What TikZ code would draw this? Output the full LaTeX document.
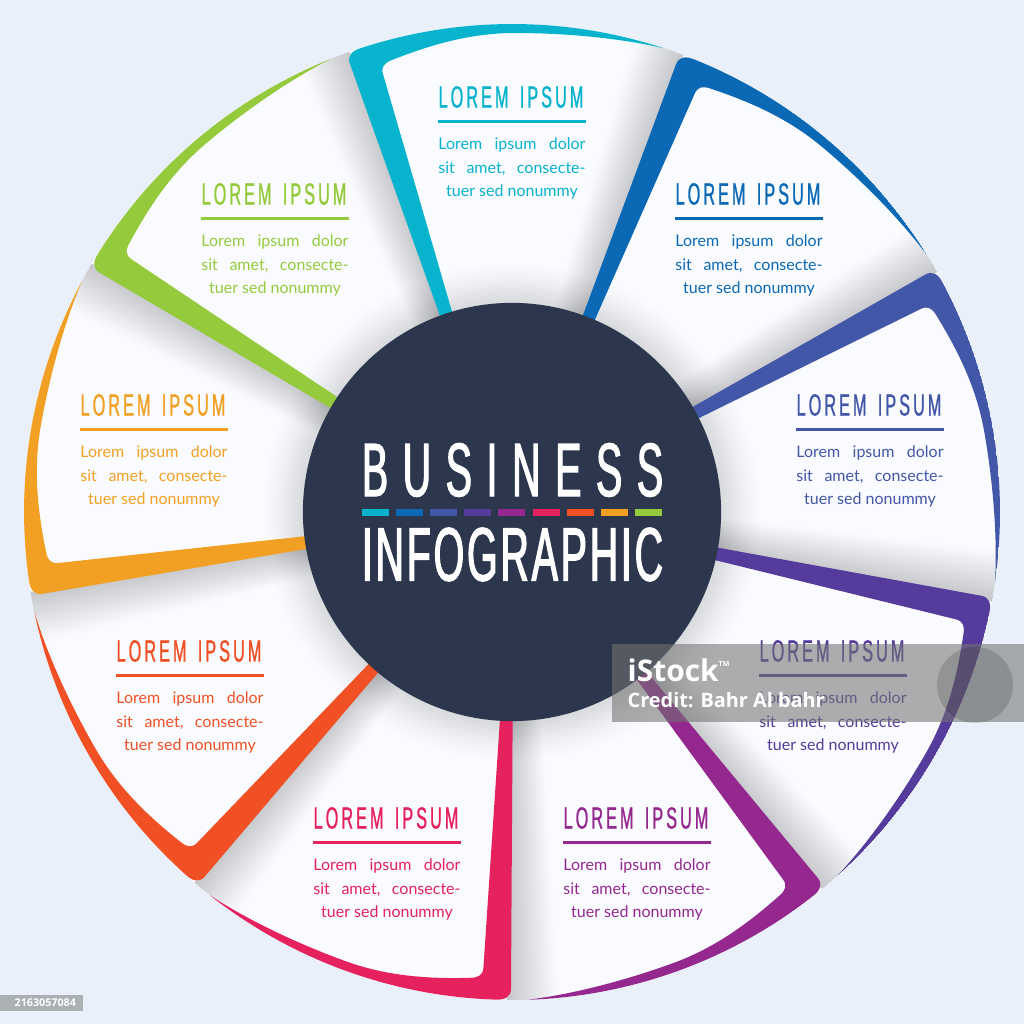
\documentclass[tikz,border=0pt]{standalone}
\usepackage{fontspec}
\setmainfont{Lato}
\newfontfamily\headfont{Liberation Sans}[FakeStretch=0.53,LetterSpace=10,FakeBold=0.9]
\newfontfamily\titlefont{Liberation Sans}[FakeStretch=0.52,FakeBold=1.6]
\newfontfamily\markfont{Open Sans}
\definecolor{pagebg}{HTML}{E9F0F9}
\definecolor{wedgebg}{HTML}{FAFBFF}
\definecolor{hubcol}{HTML}{2C364C}
\definecolor{lcyan}{HTML}{08B3CE}
\definecolor{lblue}{HTML}{0B68B5}
\definecolor{lindigo}{HTML}{4257A8}
\definecolor{lviolet}{HTML}{553B9B}
\definecolor{lpurple}{HTML}{94288F}
\definecolor{lcrimson}{HTML}{E6225E}
\definecolor{lorange}{HTML}{F15025}
\definecolor{lamber}{HTML}{F2A023}
\definecolor{lgreen}{HTML}{94CA3B}
\definecolor{tagcol}{HTML}{AAB0B3}
\tikzset{
  hubdisc/.style={circle,fill=hubcol,minimum size=4.18cm,inner sep=0pt},
  headtext/.style={inner sep=0pt,font=\headfont\fontsize{8.7}{10}\selectfont},
  bodytext/.style={inner sep=0pt,font=\fontsize{4.55}{5}\selectfont},
  titletext/.style={inner sep=0pt,text=white,font=\titlefont\fontsize{21.5}{24}\selectfont},
  shadowlayer/.style={fill=black,opacity=0.0088},
  stamptext/.style={inner sep=0pt,anchor=west,text=white,font=\markfont\bfseries}
}
\begin{document}
\begin{tikzpicture}[x=0.01cm,y=-0.01cm]
\useasboundingbox (0,0) rectangle (1024,1024);
\fill[pagebg] (0,0) rectangle (1024,1024);
\begin{scope}
\clip (512,512) circle (488);
\fill[wedgebg] (512,512) circle (488);
% shadow beside each band
\foreach \i in {0,...,8} {
  \pgfmathsetmacro\ang{-40*\i}
  \begin{scope}[rotate around={\ang:(512,512)}]
  \foreach \s in {2,4,6,8,10,12,14,16,18,20,22,24,26,28,30,32,34,36,38,40,42,44,46,48,50,53} {
    \fill[shadowlayer] (452,340) -- (342,30) -- ++(-0.943*\s,0.337*\s) -- (452-0.55*\s,340+0.2*\s) -- cycle;
  }
  \end{scope}
}
% shadow round the hub
\foreach \r in {212,214,216,218,220,222,224,226,228,230,232,235,238,241,244,248} {
  \fill[shadowlayer] (512,512) circle (\r);
}
% colour bands
\foreach \col [count=\i from 0] in {lcyan,lblue,lindigo,lviolet,lpurple,lcrimson,lorange,lamber,lgreen} {
  \pgfmathsetmacro\ang{-40*\i}
  \begin{scope}[rotate around={\ang:(512,512)}]
  \fill[\col] (445,330) -- (350,64) .. controls (347,56) and (352,51) .. (360,48.4)
    .. controls (458.6,15.9) and (565.4,15.9) .. (664.4,48.4)
    .. controls (620,38) and (565,33) .. (515,33)
    .. controls (470,33) and (430,45) .. (392,60)
    .. controls (384,63) and (381,67) .. (383,74) -- (455,322) -- cycle;
  \end{scope}
}
\end{scope}
\draw (512,512) node[hubdisc](hub) {};
\draw (512.5,470) node[titletext](business) {\makebox[3.01cm][s]{B\hfill U\hfill S\hfill I\hfill N\hfill E\hfill S\hfill S}};
\draw (512.5,554.5) node[titletext](infographic) {\makebox[3.01cm][s]{I\hfill N\hfill F\hfill O\hfill G\hfill R\hfill A\hfill P\hfill H\hfill I\hfill C}};
\foreach \col [count=\i from 0] in {lcyan,lblue,lindigo,lviolet,lpurple,lcrimson,lorange,lamber,lgreen} {
  \fill[\col] (362+34.1*\i,508.5) rectangle ++(27,7.5);
}
% text blocks
\foreach \sect/\col/\x/\y in {cyan/lcyan/511/97,blue/lblue/748/194,indigo/lindigo/869/405,violet/lviolet/832/651,purple/lpurple/636/818,crimson/lcrimson/386/818,orange/lorange/189/651,amber/lamber/153/405,green/lgreen/274/194} {
  \begin{scope}[shift={(\x,\y)}]
  \draw (0,0) node[headtext,text=\col](\sect head) {LOREM\hspace{0.12em} IPSUM};
  \draw[\col,line width=0.03cm] (-73,24.5) -- (75,24.5);
  \draw (1,48) node[bodytext,text=\col](\sect one) {\makebox[1.47cm][s]{Lorem\hfill ipsum\hfill dolor}};
  \draw (1,72) node[bodytext,text=\col](\sect two) {\makebox[1.47cm][s]{sit\hfill amet,\hfill consecte-}};
  \draw (1,95) node[bodytext,text=\col](\sect three) {tuer sed nonummy};
  \end{scope}
}
% stock stamp
\fill[black!55!white,opacity=0.58] (612,644) rectangle (1024,722);
\fill[black,opacity=0.14] (975,685) circle (38);
\draw (627,670) node[stamptext,font=\markfont\bfseries\fontsize{8.5}{10}\selectfont](stock) {iStock\raisebox{0.9ex}{\fontsize{2}{2}\selectfont TM}};
\draw (627,700) node[stamptext,font=\markfont\bfseries\fontsize{5.65}{6}\selectfont](credit) {Credit: Bahr Al bahr};
\fill[tagcol] (0,995) rectangle (83,1011);
\draw (14,1003) node[stamptext,font=\markfont\bfseries\fontsize{3.05}{4}\selectfont](stockid) {2163057084};
\end{tikzpicture}
\end{document}
